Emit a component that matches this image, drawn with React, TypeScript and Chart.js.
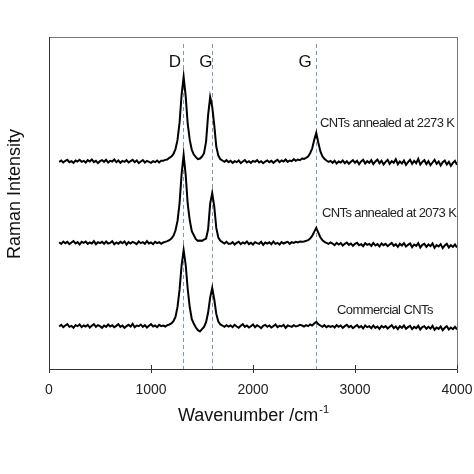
import React, { useEffect, useRef } from "react";
import { Chart, registerables } from "chart.js";
Chart.register(...registerables);

// Raman shift grid (cm-1)
const wavenumbers = [
  100, 120, 140, 160, 180, 200, 220, 240, 260, 280,
  300, 320, 340, 360, 380, 400, 420, 440, 460, 480,
  500, 520, 540, 560, 580, 600, 620, 640, 660, 680,
  700, 720, 740, 760, 780, 800, 820, 840, 860, 880,
  900, 920, 940, 960, 980, 1000, 1020, 1040, 1060, 1080,
  1100, 1120, 1140, 1160, 1180, 1200, 1220, 1240, 1260, 1280,
  1300, 1320, 1340, 1360, 1380, 1400, 1420, 1440, 1460, 1480,
  1500, 1520, 1540, 1560, 1580, 1600, 1620, 1640, 1660, 1680,
  1700, 1720, 1740, 1760, 1780, 1800, 1820, 1840, 1860, 1880,
  1900, 1920, 1940, 1960, 1980, 2000, 2020, 2040, 2060, 2080,
  2100, 2120, 2140, 2160, 2180, 2200, 2220, 2240, 2260, 2280,
  2300, 2320, 2340, 2360, 2380, 2400, 2420, 2440, 2460, 2480,
  2500, 2520, 2540, 2560, 2580, 2600, 2620, 2640, 2660, 2680,
  2700, 2720, 2740, 2760, 2780, 2800, 2820, 2840, 2860, 2880,
  2900, 2920, 2940, 2960, 2980, 3000, 3020, 3040, 3060, 3080,
  3100, 3120, 3140, 3160, 3180, 3200, 3220, 3240, 3260, 3280,
  3300, 3320, 3340, 3360, 3380, 3400, 3420, 3440, 3460, 3480,
  3500, 3520, 3540, 3560, 3580, 3600, 3620, 3640, 3660, 3680,
  3700, 3720, 3740, 3760, 3780, 3800, 3820, 3840, 3860, 3880,
  3900, 3920, 3940, 3960, 3980, 4000,
];

// Intensities (arbitrary units, offset spectra)
const annealed2273 = [
  // 100-1100
  624, 628, 622, 627, 630, 623, 626, 621, 628, 625, 630, 624, 627, 622, 629, 625, 631, 623, 627, 620,
  626, 629, 624, 630, 622, 627, 625, 631, 623, 628, 621, 627, 624, 629, 622, 626, 630, 623, 628, 620,
  625, 629, 622, 627, 624, 621, 626, 623, 628, 622, 627,
  // 1120-1760
  627, 630, 631, 636, 640, 648, 662, 690, 742, 826, 880, 822, 738, 690, 660, 646, 638, 632, 634, 640,
  650, 685, 765, 819, 790, 735, 670, 643, 632, 628, 624, 629, 623,
  // 1780-2480
  627, 621, 626, 623, 628, 620, 625, 629, 622, 626, 621, 627, 624, 629, 622, 626, 620, 625, 628, 623,
  627, 621, 626, 630, 623, 628, 625, 631, 624, 628, 626, 632, 627, 631, 629, 634,
  // 2500-2760
  633, 636, 640, 650, 664, 690, 711, 682, 656, 641, 633, 628, 624, 627,
  // 2780-4000
  621, 627, 619, 625, 622, 628, 620, 626, 618, 624, 629, 621, 627, 617, 625, 630, 619, 626, 621, 629,
  617, 625, 631, 620, 627, 616, 624, 630, 618, 626, 621, 632, 617, 625, 619, 628, 615, 623, 630, 618,
  627, 620, 633, 616, 624, 629, 617, 626, 614, 622, 630, 618, 625, 613, 623, 628, 616, 624, 612, 621,
  627, 615,
];

const annealed2073 = [
  382, 377, 384, 379, 383, 376, 381, 385, 378, 382, 375, 383, 380, 384, 377, 381, 378, 385, 376, 382,
  379, 383, 377, 384, 378, 380, 385, 376, 381, 377, 383, 379, 384, 375, 382, 378, 383, 380, 376, 384,
  379, 382, 377, 385, 378, 381, 376, 383, 379, 382, 377,
  381, 383, 385, 388, 393, 401, 417, 446, 499, 587, 645, 585, 497, 448, 415, 403, 391, 386, 387, 386,
  390, 393, 421, 498, 530, 490, 425, 396, 386, 382, 378, 383, 377,
  377, 382, 375, 380, 383, 376, 381, 378, 384, 376, 380, 375, 382, 379, 377, 383, 374, 381, 378, 382,
  376, 384, 377, 380, 375, 382, 378, 381, 383, 377, 382, 380, 383, 381, 384, 383,
  384, 386, 388, 393, 401, 413, 425, 411, 397, 388, 383, 380, 377, 381,
  378, 373, 380, 375, 379, 372, 377, 381, 374, 378, 371, 377, 380, 373, 376, 370, 379, 374, 377, 371,
  380, 372, 376, 369, 378, 373, 377, 370, 375, 380, 371, 376, 368, 377, 372, 379, 369, 374, 378, 367,
  375, 371, 379, 366, 374, 377, 368, 375, 370, 378, 365, 373, 369, 376, 364, 372, 377, 366, 373, 368,
  375, 366,
];

const commercial = [
  128, 133, 126, 131, 135, 127, 130, 124, 132, 129, 134, 126, 131, 128, 133, 125, 130, 135, 127, 132,
  129, 124, 131, 127, 134, 128, 132, 126, 130, 135, 127, 131, 124, 129, 133, 128, 136, 126, 131, 129,
  134, 127, 132, 125, 130, 135, 128, 131, 126, 133, 129,
  131, 128, 132, 134, 137, 144, 157, 187, 239, 312, 358, 314, 241, 186, 150, 136, 125, 117, 113, 120,
  127, 141, 170, 215, 244, 210, 166, 143, 134, 131, 127, 132, 128,
  131, 126, 133, 128, 124, 130, 135, 127, 131, 125, 129, 134, 126, 132, 128, 123, 130, 133, 127, 131,
  125, 129, 134, 126, 130, 128, 133, 124, 131, 129, 127, 132, 128, 130, 133, 131,
  128, 132, 129, 134, 131, 137, 142, 135, 131, 127, 132, 126, 130, 127,
  130, 125, 132, 127, 131, 124, 129, 133, 126, 130, 123, 128, 132, 125, 129, 122, 131, 126, 129, 123,
  131, 124, 128, 121, 130, 125, 129, 122, 127, 132, 123, 128, 120, 129, 124, 131, 121, 126, 130, 120,
  127, 123, 130, 119, 126, 129, 121, 127, 122, 130, 118, 125, 121, 128, 117, 124, 129, 119, 125, 120,
  127, 119,
];

const xTicks = [0, 1000, 2000, 3000, 4000];
const peakPositions = [1315, 1598, 2618];
const peakNames = ["D", "G", "G"];
const peakNameX = [1235, 1539, 2510];
const peakNameY = 910;
const dashTop = 979;
const seriesNames = ["CNTs annealed at 2273 K", "CNTs annealed at 2073 K", "Commercial CNTs"];
const seriesNameX = [2657, 2676, 2824];
const seriesNameY = [729, 458, 166];

const FONT = '"Liberation Sans", Arial, Helvetica, sans-serif';

const overlay = {
  id: "overlay",
  beforeDatasetsDraw(chart: any) {
    const { ctx, chartArea } = chart;
    const x = chart.scales.x;
    const y = chart.scales.y;
    ctx.save();
    ctx.strokeStyle = "#7d98b8";
    ctx.lineWidth = 1;
    ctx.setLineDash([4, 3]);
    peakPositions.forEach((p) => {
      const px = Math.round(x.getPixelForValue(p)) + 0.5;
      ctx.beginPath();
      ctx.moveTo(px, y.getPixelForValue(dashTop));
      ctx.lineTo(px, chartArea.bottom);
      ctx.stroke();
    });
    ctx.restore();
  },
  afterDraw(chart: any) {
    const { ctx, chartArea } = chart;
    const x = chart.scales.x;
    const y = chart.scales.y;
    ctx.save();
    // inward half of tick marks
    ctx.strokeStyle = "#333";
    ctx.lineWidth = 1;
    xTicks.forEach((t) => {
      const px = Math.round(x.getPixelForValue(t)) + 0.5;
      ctx.beginPath();
      ctx.moveTo(px, chartArea.bottom - 4);
      ctx.lineTo(px, chartArea.bottom);
      ctx.stroke();
    });
    // peak names
    ctx.fillStyle = "#111";
    ctx.font = `17px ${FONT}`;
    ctx.textAlign = "center";
    ctx.textBaseline = "alphabetic";
    peakNames.forEach((n, i) => {
      ctx.fillText(n, x.getPixelForValue(peakNameX[i]), y.getPixelForValue(peakNameY));
    });
    // series names
    ctx.fillStyle = "#222";
    ctx.font = `13px ${FONT}`;
    ctx.textAlign = "left";
    (ctx as any).letterSpacing = "-0.6px";
    seriesNames.forEach((n, i) => {
      ctx.fillText(n, x.getPixelForValue(seriesNameX[i]), y.getPixelForValue(seriesNameY[i]));
    });
    (ctx as any).letterSpacing = "0px";
    // x axis title with superscript
    const main = "Wavenumber /cm";
    const sup = "-1";
    ctx.fillStyle = "#111";
    ctx.font = `18px ${FONT}`;
    const w1 = ctx.measureText(main).width;
    ctx.font = `11px ${FONT}`;
    const w2 = ctx.measureText(sup).width;
    const cx = (chartArea.left + chartArea.right) / 2;
    const sx = cx - (w1 + w2) / 2;
    ctx.textAlign = "left";
    ctx.font = `18px ${FONT}`;
    ctx.fillText(main, sx, 421);
    ctx.font = `11px ${FONT}`;
    ctx.fillText(sup, sx + w1 + 1, 413);
    // y axis title
    ctx.translate(15, 194);
    ctx.rotate(-Math.PI / 2);
    ctx.font = `18px ${FONT}`;
    ctx.textAlign = "center";
    ctx.textBaseline = "middle";
    ctx.fillText("Raman Intensity", 0, 0);
    ctx.restore();
  },
};

export default function App() {
  const ref = useRef<HTMLCanvasElement | null>(null);
  useEffect(() => {
    if (!ref.current) return;
    const mk = (vals: number[]) => wavenumbers.map((w, i) => ({ x: w, y: vals[i] }));
    const line = (label: string, vals: number[]) => ({
      label,
      data: mk(vals),
      borderColor: "#000",
      borderWidth: 2,
      pointRadius: 0,
      fill: false,
      tension: 0,
    });
    const chart = new Chart(ref.current, {
      type: "line",
      data: {
        datasets: [
          line(seriesNames[0], annealed2273),
          line(seriesNames[1], annealed2073),
          line(seriesNames[2], commercial),
        ],
      },
      options: {
        animation: false,
        responsive: false,
        devicePixelRatio: 1,
        layout: { padding: 0 },
        plugins: { legend: { display: false }, tooltip: { enabled: false } },
        scales: {
          x: {
            type: "linear",
            position: "bottom",
            min: 0,
            max: 4000,
            afterBuildTicks: (s: any) => {
              s.ticks = xTicks.map((v) => ({ value: v }));
            },
            ticks: {
              font: { size: 14, family: FONT },
              color: "#222",
              padding: 9,
              maxRotation: 0,
              autoSkip: false,
              callback: (v: any) => String(v),
            },
            grid: { display: true, drawOnChartArea: false, drawTicks: true, tickLength: 4, color: "#333" },
            border: { display: true, color: "#333", width: 1 },
            afterFit: (s: any) => {
              s.height = 105;
              s.paddingLeft = 0;
              s.paddingRight = 0;
            },
          },
          x2: {
            type: "linear",
            position: "top",
            min: 0,
            max: 4000,
            ticks: { display: false },
            grid: { display: false },
            border: { display: true, color: "#777", width: 1 },
            afterFit: (s: any) => {
              s.height = 37;
              s.paddingLeft = 0;
              s.paddingRight = 0;
            },
          },
          y: {
            type: "linear",
            position: "left",
            min: 0,
            max: 1000,
            ticks: { display: false },
            grid: { display: false },
            border: { display: true, color: "#333", width: 1 },
            afterFit: (s: any) => {
              s.width = 49;
              s.paddingTop = 0;
              s.paddingBottom = 0;
            },
          },
          y2: {
            type: "linear",
            position: "right",
            min: 0,
            max: 1000,
            ticks: { display: false },
            grid: { display: false },
            border: { display: true, color: "#777", width: 1 },
            afterFit: (s: any) => {
              s.width = 17;
              s.paddingTop = 0;
              s.paddingBottom = 0;
            },
          },
        },
      },
      plugins: [overlay],
    } as any);
    return () => chart.destroy();
  }, []);
  return (
    <div style={{ position: "absolute", left: 0, top: 0, width: 474, height: 474, background: "#fff" }}>
      <canvas ref={ref} width={474} height={474} style={{ display: "block" }} />
    </div>
  );
}
